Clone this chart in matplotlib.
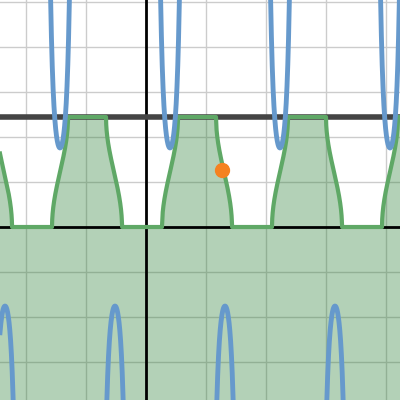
import numpy as np
import matplotlib
matplotlib.use("Agg")
import matplotlib.pyplot as plt

# view window (grid units)
x_range = [-2.433, 4.233]
y_range = [-3.844, 5.044]
period = 1.833
blue_center = -1.433      # x of a positive branch minimum
blue_min = 1.756
blue_power = 7
green_center = -0.983
green_top_hw, green_base_hw = 0.317, 0.583
green_top = 2.444          # ceiling line
point = (1.267, 1.267)

fig = plt.figure(figsize=(4, 4), dpi=100)
ax = fig.add_axes([0, 0, 1, 1])
ax.set_xlim(*x_range); ax.set_ylim(*y_range)
for gx in np.arange(-2, 5, 1):
    ax.axvline(gx, color='#cccccc', lw=1, zorder=0)
for gy in np.arange(-3, 6, 1):
    ax.axhline(gy, color='#cccccc', lw=1, zorder=0)
ax.axvline(0, color='black', lw=2, zorder=3)
ax.axhline(0, color='black', lw=2, zorder=3)
ax.axhline(green_top, color='#444444', lw=4, zorder=3)

x = np.linspace(x_range[0], x_range[1], 8000)
d = np.abs(((x - green_center + period/2) % period) - period/2)
m = (green_top_hw + green_base_hw)/2
w = (green_base_hw - green_top_hw)/2
u = np.clip((d - m)/w, -1, 1)
g = (0.5 - np.arcsin(u)/np.pi)*green_top
ax.fill_between(x, y_range[0]-1, g, color='#267c31', alpha=0.35, lw=0, zorder=1)
ax.plot(x, g, color='#5fa866', lw=3, zorder=4)

tb = 2*np.pi*(x-blue_center)/period
c = np.cos(tb)
with np.errstate(divide='ignore'):
    yb = blue_min/np.sign(c)/np.abs(c)**blue_power
yb[np.abs(yb) > 20] = np.nan
ax.plot(x, yb, color='#6699cc', lw=3.5, zorder=5)

ax.plot(*point, 'o', color='#f58220', ms=10, zorder=6)
ax.axis('off')
fig.savefig('out.png', dpi=100)
